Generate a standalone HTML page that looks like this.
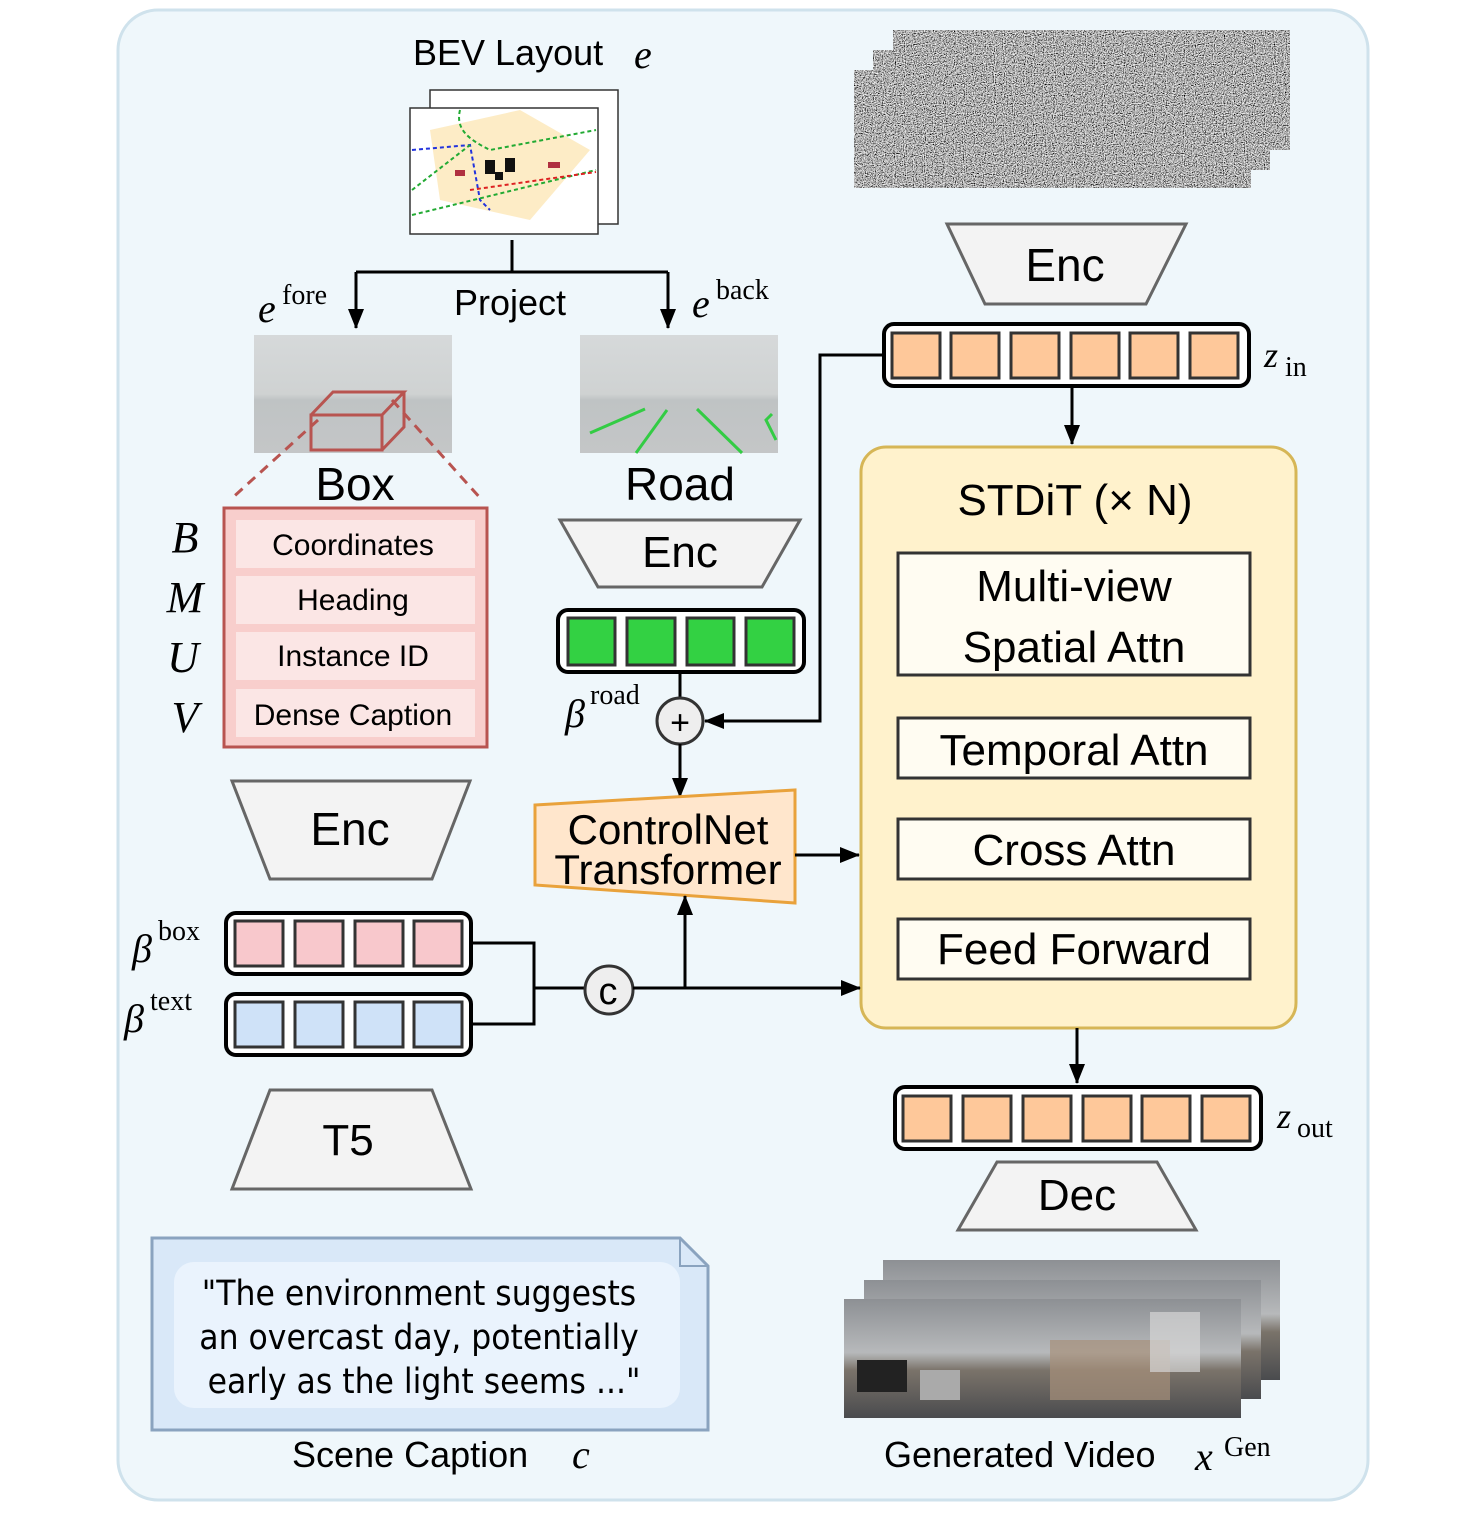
<!DOCTYPE html>
<html><head><meta charset="utf-8"><style>
html,body{margin:0;padding:0;background:#fff}
svg{display:block}
text{font-family:"Liberation Sans",sans-serif;fill:#000}
text.s,.s text{font-family:"Liberation Serif",serif;font-style:italic}
text.r{font-family:"Liberation Serif",serif}
text.c{font-family:"DejaVu Sans Condensed","DejaVu Sans",sans-serif}
</style></head><body>
<svg width="1466" height="1516" viewBox="0 0 1466 1516" xmlns="http://www.w3.org/2000/svg">
<defs>
<filter id="nz" x="0" y="0" width="100%" height="100%"><feTurbulence type="fractalNoise" baseFrequency="0.9" numOctaves="2" seed="3"/><feColorMatrix type="saturate" values="0"/><feComponentTransfer><feFuncR type="linear" slope="3" intercept="-1.05"/><feFuncG type="linear" slope="3" intercept="-1.05"/><feFuncB type="linear" slope="3" intercept="-1.05"/><feFuncA type="linear" slope="0" intercept="1"/></feComponentTransfer></filter>
<marker id="ar" markerWidth="20" markerHeight="16" refX="19" refY="8" orient="auto" markerUnits="userSpaceOnUse" viewBox="0 0 20 16"><path d="M0,0 L20,8 L0,16 z" fill="#000"/></marker>
<linearGradient id="sky" x1="0" y1="0" x2="0" y2="1"><stop offset="0" stop-color="#d6d9da"/><stop offset="0.5" stop-color="#cfd2d2"/><stop offset="0.55" stop-color="#bfc3c4"/><stop offset="1" stop-color="#c4c6c7"/></linearGradient>
<linearGradient id="vid" x1="0" y1="0" x2="0" y2="1"><stop offset="0" stop-color="#8d9094"/><stop offset="0.45" stop-color="#b7b9bb"/><stop offset="0.6" stop-color="#7a736a"/><stop offset="1" stop-color="#4a4b4e"/></linearGradient>
</defs>
<rect x="118" y="10" width="1250" height="1490" rx="40" fill="#eff7fb" stroke="#cfe2ec" stroke-width="3"/>

<rect x="893" y="30" width="397" height="120" fill="#888" filter="url(#nz)"/>
<rect x="873" y="50" width="397" height="120" fill="#888" filter="url(#nz)"/>
<rect x="854" y="70" width="397" height="118" fill="#888" filter="url(#nz)"/>

<polygon points="947,224 1186,224 1146,304 985,304" fill="#f3f3f3" stroke="#666" stroke-width="3"/>
<text x="1065" y="281" font-size="46" text-anchor="middle" fill="#333">Enc</text>

<rect x="884" y="324" width="365" height="62" rx="10" fill="#fff" stroke="#000" stroke-width="4"/>
<g fill="#fec89a" stroke="#333" stroke-width="3">
<rect x="892" y="333" width="48" height="45"/><rect x="951" y="333" width="48" height="45"/><rect x="1011" y="333" width="48" height="45"/><rect x="1071" y="333" width="48" height="45"/><rect x="1130" y="333" width="48" height="45"/><rect x="1190" y="333" width="48" height="45"/>
</g>
<text x="1264" y="367" font-size="36" class="s">z</text><text x="1285" y="376" font-size="28" class="r">in</text>
<line x1="1072" y1="386" x2="1072" y2="444" stroke="#000" stroke-width="3" marker-end="url(#ar)"/>

<rect x="861" y="447" width="435" height="581" rx="25" fill="#fff2cc" stroke="#d6b656" stroke-width="3"/>
<text x="1075" y="515" font-size="44" text-anchor="middle">STDiT (× N)</text>
<g fill="#fffcf2" stroke="#333" stroke-width="3">
<rect x="898" y="553" width="352" height="122"/>
<rect x="898" y="718" width="352" height="60"/>
<rect x="898" y="819" width="352" height="60"/>
<rect x="898" y="919" width="352" height="60"/>
</g>
<g font-size="44" text-anchor="middle">
<text x="1074" y="601">Multi-view</text>
<text x="1074" y="662">Spatial Attn</text>
<text x="1074" y="765">Temporal Attn</text>
<text x="1074" y="865">Cross Attn</text>
<text x="1074" y="964">Feed Forward</text>
</g>

<line x1="1077" y1="1028" x2="1077" y2="1083" stroke="#000" stroke-width="3" marker-end="url(#ar)"/>
<rect x="895" y="1087" width="366" height="62" rx="10" fill="#fff" stroke="#000" stroke-width="4"/>
<g fill="#fec89a" stroke="#333" stroke-width="3">
<rect x="903" y="1096" width="48" height="45"/><rect x="963" y="1096" width="48" height="45"/><rect x="1023" y="1096" width="48" height="45"/><rect x="1083" y="1096" width="48" height="45"/><rect x="1142" y="1096" width="48" height="45"/><rect x="1202" y="1096" width="48" height="45"/>
</g>
<text x="1277" y="1128" font-size="36" class="s">z</text><text x="1297" y="1137" font-size="28" class="r">out</text>

<polygon points="997,1162 1157,1162 1196,1230 958,1230" fill="#f3f3f3" stroke="#666" stroke-width="3"/>
<text x="1077" y="1210" font-size="44" text-anchor="middle" fill="#333">Dec</text>

<rect x="883" y="1260" width="397" height="120" fill="url(#vid)"/>
<rect x="864" y="1280" width="397" height="119" fill="url(#vid)"/>
<rect x="844" y="1299" width="397" height="119" fill="url(#vid)"/>
<rect x="1050" y="1340" width="120" height="60" fill="#a7907a" opacity="0.7"/>
<rect x="1150" y="1312" width="50" height="60" fill="#d6d6d6" opacity="0.7"/>
<rect x="920" y="1370" width="40" height="30" fill="#aaa"/>
<rect x="857" y="1360" width="50" height="32" fill="#222"/>
<text x="884" y="1467" font-size="36">Generated Video</text>
<text x="1195" y="1470" font-size="40" class="s">x</text><text x="1224" y="1456" font-size="28" class="r">Gen</text>

<text x="413" y="65" font-size="36">BEV Layout</text><text x="634" y="68" font-size="40" class="s">e</text>
<rect x="430" y="90" width="188" height="134" fill="#fff" stroke="#333" stroke-width="1.5"/>
<rect x="410" y="108" width="188" height="126" fill="#fff" stroke="#333" stroke-width="1.5"/>
<polygon points="430,130 520,110 590,150 530,220 440,200" fill="#fde7b8" opacity="0.8"/>
<path d="M412,150 L470,145 L480,200 L490,210" stroke="#2233dd" stroke-width="2" stroke-dasharray="4,3" fill="none"/>
<path d="M412,215 L596,170 M412,190 L470,145" stroke="#22aa33" stroke-width="2" stroke-dasharray="4,3" fill="none"/>
<path d="M460,110 C455,130 470,140 490,150 L596,130" stroke="#22aa33" stroke-width="2" stroke-dasharray="4,3" fill="none"/>
<path d="M470,190 L596,172" stroke="#dd2222" stroke-width="2" stroke-dasharray="4,3" fill="none"/>
<g fill="#111"><rect x="485" y="160" width="10" height="14"/><rect x="505" y="158" width="10" height="14"/><rect x="495" y="172" width="8" height="8"/></g>
<rect x="455" y="170" width="10" height="6" fill="#b03040"/><rect x="548" y="162" width="12" height="6" fill="#b03040"/>

<path d="M512,240 L512,272 M356,272 L668,272" stroke="#000" stroke-width="3" fill="none"/>
<line x1="356" y1="272" x2="356" y2="328" stroke="#000" stroke-width="3" marker-end="url(#ar)"/>
<line x1="668" y1="272" x2="668" y2="328" stroke="#000" stroke-width="3" marker-end="url(#ar)"/>
<text x="510" y="315" font-size="36" text-anchor="middle">Project</text>
<text x="258" y="322" font-size="40" class="s">e</text><text x="282" y="304" font-size="28" class="r">fore</text>
<text x="692" y="317" font-size="40" class="s">e</text><text x="716" y="299" font-size="28" class="r">back</text>

<rect x="254" y="335" width="198" height="118" fill="url(#sky)"/>
<rect x="580" y="335" width="198" height="118" fill="url(#sky)"/>
<g fill="none" stroke="#b85450" stroke-width="3"><path d="M311,415 L382,415 L382,450 L311,450 Z M311,415 L333,392 L404,392 L382,415 M404,392 L404,427 L382,450"/></g>
<g stroke="#b85450" stroke-width="3" stroke-dasharray="10,7" fill="none"><line x1="318" y1="420" x2="230" y2="500"/><line x1="392" y1="400" x2="482" y2="500"/></g>
<g stroke="#33cc44" stroke-width="3" fill="none"><line x1="590" y1="433" x2="645" y2="409"/><line x1="636" y1="453" x2="667" y2="410"/><line x1="697" y1="409" x2="742" y2="453"/><path d="M772,414 L766,420 L776,440"/></g>
<text x="355" y="500" font-size="46" text-anchor="middle">Box</text>
<text x="680" y="500" font-size="46" text-anchor="middle">Road</text>

<rect x="224" y="508" width="263" height="239" fill="#f8cecc" stroke="#b85450" stroke-width="3"/>
<g fill="#fbe6e5"><rect x="236" y="520" width="239" height="48"/><rect x="236" y="576" width="239" height="48"/><rect x="236" y="632" width="239" height="48"/><rect x="236" y="689" width="239" height="48"/></g>
<g font-size="30" text-anchor="middle"><text x="353" y="555">Coordinates</text><text x="353" y="610">Heading</text><text x="353" y="666">Instance ID</text><text x="353" y="725">Dense Caption</text></g>
<g font-size="44" class="s" text-anchor="middle"><text x="185" y="552">B</text><text x="185" y="612">M</text><text x="183" y="672">U</text><text x="185" y="732">V</text></g>

<polygon points="560,520 800,520 762,587 598,587" fill="#f3f3f3" stroke="#666" stroke-width="3"/>
<text x="680" y="567" font-size="44" text-anchor="middle" fill="#333">Enc</text>
<rect x="558" y="610" width="246" height="62" rx="10" fill="#fff" stroke="#000" stroke-width="4"/>
<g fill="#33d143" stroke="#333" stroke-width="3"><rect x="568" y="618" width="47" height="47"/><rect x="627" y="618" width="48" height="47"/><rect x="687" y="618" width="47" height="47"/><rect x="746" y="618" width="48" height="47"/></g>
<line x1="680" y1="672" x2="680" y2="698" stroke="#000" stroke-width="3"/>
<text x="565" y="727" font-size="40" class="s">β</text><text x="590" y="704" font-size="28" class="r">road</text>
<circle cx="680" cy="721" r="23" fill="#eee" stroke="#333" stroke-width="3"/>
<text x="680" y="734" font-size="34" text-anchor="middle">+</text>
<path d="M884,355 L820,355 L820,721 L705,721" stroke="#000" stroke-width="3" fill="none" marker-end="url(#ar)"/>
<line x1="680" y1="744" x2="680" y2="797" stroke="#000" stroke-width="3" marker-end="url(#ar)"/>

<polygon points="535,805 795,790 795,903 535,885" fill="#ffe6cc" stroke="#e9a23b" stroke-width="3"/>
<text x="668" y="844" font-size="42" text-anchor="middle">ControlNet</text>
<text x="668" y="884" font-size="42" text-anchor="middle">Transformer</text>
<line x1="795" y1="855" x2="859" y2="855" stroke="#000" stroke-width="3" marker-end="url(#ar)"/>

<polygon points="232,781 470,781 432,879 270,879" fill="#f3f3f3" stroke="#666" stroke-width="3"/>
<text x="350" y="845" font-size="46" text-anchor="middle" fill="#333">Enc</text>
<rect x="226" y="913" width="245" height="61" rx="10" fill="#fff" stroke="#000" stroke-width="4"/>
<g fill="#f8c8cc" stroke="#333" stroke-width="3"><rect x="235" y="921" width="48" height="45"/><rect x="295" y="921" width="48" height="45"/><rect x="355" y="921" width="48" height="45"/><rect x="414" y="921" width="48" height="45"/></g>
<rect x="226" y="994" width="245" height="61" rx="10" fill="#fff" stroke="#000" stroke-width="4"/>
<g fill="#cfe2f8" stroke="#333" stroke-width="3"><rect x="235" y="1002" width="48" height="45"/><rect x="295" y="1002" width="48" height="45"/><rect x="355" y="1002" width="48" height="45"/><rect x="414" y="1002" width="48" height="45"/></g>
<text x="132" y="962" font-size="40" class="s">β</text><text x="158" y="940" font-size="28" class="r">box</text>
<text x="124" y="1032" font-size="40" class="s">β</text><text x="150" y="1010" font-size="28" class="r">text</text>
<path d="M471,943 L534,943 L534,1024 L471,1024 M534,988 L585,988" stroke="#000" stroke-width="3" fill="none"/>
<circle cx="609" cy="990" r="24" fill="#eee" stroke="#333" stroke-width="3"/>
<text x="608" y="1004" font-size="38" text-anchor="middle">c</text>
<line x1="633" y1="988" x2="860" y2="988" stroke="#000" stroke-width="3" marker-end="url(#ar)"/>
<line x1="685" y1="988" x2="685" y2="896" stroke="#000" stroke-width="3" marker-end="url(#ar)"/>

<polygon points="270,1090 432,1090 471,1189 232,1189" fill="#f3f3f3" stroke="#666" stroke-width="3"/>
<text x="348" y="1155" font-size="44" text-anchor="middle" fill="#333">T5</text>

<path d="M152,1238 L680,1238 L708,1266 L708,1430 L152,1430 Z" fill="#d9e8f8" stroke="#8aa3bf" stroke-width="3"/>
<path d="M680,1238 L680,1266 L708,1266" fill="none" stroke="#8aa3bf" stroke-width="2"/>
<rect x="174" y="1262" width="506" height="146" rx="20" fill="#eaf3fd"/>
<g font-size="35" text-anchor="middle">
<text class="c" x="419" y="1305">"The environment suggests</text>
<text class="c" x="419" y="1349">an overcast day, potentially</text>
<text class="c" x="424" y="1393">early as the light seems ..."</text>
</g>
<text x="292" y="1467" font-size="36">Scene Caption</text><text x="572" y="1468" font-size="40" class="s">c</text>
</svg>
</body></html>
